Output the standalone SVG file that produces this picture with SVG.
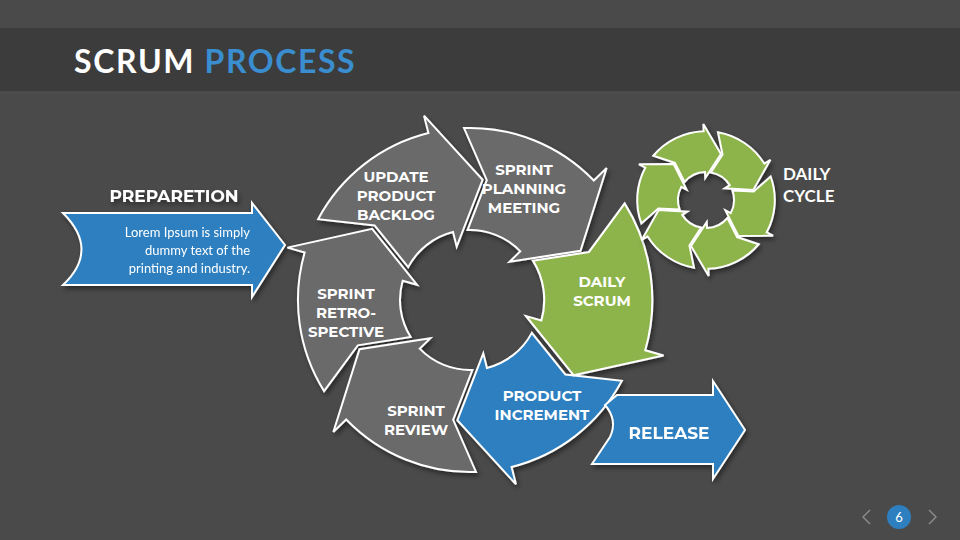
<svg xmlns="http://www.w3.org/2000/svg" width="960" height="540" viewBox="0 0 960 540">
<defs>
<filter id="sh" x="-20%" y="-20%" width="140%" height="140%"><feDropShadow dx="2" dy="3" stdDeviation="2.5" flood-color="#000" flood-opacity="0.45"/></filter>
<path id="seg" d="M-86,-149 A172,172 0 0 1 53.2,-163.6 L58.7,-180.7 L74.5,-95.3 L17,-52.3 L21.6,-66.6 A70,70 0 0 0 -35,-60.6 L-41.4,-113.7 Z"/>
<style>
.t{font-family:"Montserrat","Lato","Open Sans",sans-serif;font-weight:700;fill:#fff;text-anchor:middle}
.g{fill:#6a6a6a}.gr{fill:#8db44b}.b{fill:#2d7fc0}
.s{stroke:#fff;stroke-width:2;stroke-linejoin:miter}
.ss{stroke:#fff;stroke-width:5;stroke-linejoin:miter}
</style>
</defs>
<rect width="960" height="540" fill="#4a4a4a"/>
<rect x="0" y="28" width="960" height="64" fill="#3c3c3c"/>
<line x1="0" y1="92" x2="960" y2="92" stroke="#555" stroke-width="1"/>
<text x="74" y="73" font-family="Lato,'Open Sans',sans-serif" font-size="32" font-weight="700" letter-spacing="1.6" fill="#fff">SCRUM <tspan fill="#3a8dcf">PROCESS</tspan></text>

<g id="preparation" filter="url(#sh)">
<path class="b s" d="M63,213 L252,213 L252,203 L285,245 L252,297 L252,285 L63,285 Q100,250 63,213 Z"/>
<text class="t" x="174" y="202" font-size="17">PREPARETION</text>
<text x="250" y="237" font-family="Lato,'Open Sans',sans-serif" font-size="13" fill="#fff" text-anchor="end">Lorem Ipsum is simply<tspan x="250" dy="18">dummy text of the</tspan><tspan x="250" dy="18">printing and industry.</tspan></text>
</g>

<g id="cycle" filter="url(#sh)">
<g id="retro"><use href="#seg" class="g s" transform="translate(470,300) rotate(268)"/></g>
<g id="review"><use href="#seg" class="g s" transform="translate(470,300) rotate(208)"/></g>
<g id="increment"><use href="#seg" class="b s" transform="translate(470,300) rotate(148)"/></g>
<g id="daily-scrum"><use href="#seg" class="gr s" transform="translate(470,300) rotate(88) scale(1.06)"/></g>
<g id="planning"><use href="#seg" class="g s" transform="translate(470,300) rotate(28)"/></g>
<g id="backlog"><use href="#seg" class="g s" transform="translate(470,300) rotate(-32)"/></g>
</g>
<g>
<text class="t" x="396" y="182" font-size="15">UPDATE<tspan x="396" dy="19">PRODUCT</tspan><tspan x="396" dy="19">BACKLOG</tspan></text>
<text class="t" x="524" y="175" font-size="15">SPRINT<tspan x="524" dy="19">PLANNING</tspan><tspan x="524" dy="19">MEETING</tspan></text>
<text class="t" x="602" y="287" font-size="15">DAILY<tspan x="602" dy="19">SCRUM</tspan></text>
<text class="t" x="542" y="401" font-size="15">PRODUCT<tspan x="542" dy="19">INCREMENT</tspan></text>
<text class="t" x="416" y="416" font-size="15">SPRINT<tspan x="416" dy="19">REVIEW</tspan></text>
<text class="t" x="346" y="299" font-size="15">SPRINT<tspan x="346" dy="19">RETRO-</tspan><tspan x="346" dy="19">SPECTIVE</tspan></text>
</g>

<g id="release" filter="url(#sh)">
<path class="b s" d="M617,395 L713,395 L713,381 L745,430 L713,479 L713,464 L592,464 L610,437 Q618,420 605,405 Z"/>
<text class="t" x="669" y="439" font-size="17">RELEASE</text>
</g>

<g id="daily-cycle" filter="url(#sh)">
<use href="#seg" class="gr ss" transform="translate(706,200) rotate(-20) scale(0.4)"/>
<use href="#seg" class="gr ss" transform="translate(706,200) rotate(40) scale(0.4)"/>
<use href="#seg" class="gr ss" transform="translate(706,200) rotate(100) scale(0.4)"/>
<use href="#seg" class="gr ss" transform="translate(706,200) rotate(160) scale(0.4)"/>
<use href="#seg" class="gr ss" transform="translate(706,200) rotate(220) scale(0.4)"/>
<use href="#seg" class="gr ss" transform="translate(706,200) rotate(280) scale(0.4)"/>
</g>
<text x="783" y="180" font-family="Lato,'Open Sans',sans-serif" font-size="17" font-weight="700" fill="#fff">DAILY<tspan x="783" dy="22">CYCLE</tspan></text>

<g id="footer">
<polyline points="870,510 863,517 870,524" fill="none" stroke="#888" stroke-width="1.5"/>
<circle cx="899" cy="517" r="12" fill="#2d7fc0"/>
<text x="899" y="522" font-family="Lato,sans-serif" font-size="13" fill="#fff" text-anchor="middle">6</text>
<polyline points="929,510 936,517 929,524" fill="none" stroke="#888" stroke-width="1.5"/>
</g>
</svg>
